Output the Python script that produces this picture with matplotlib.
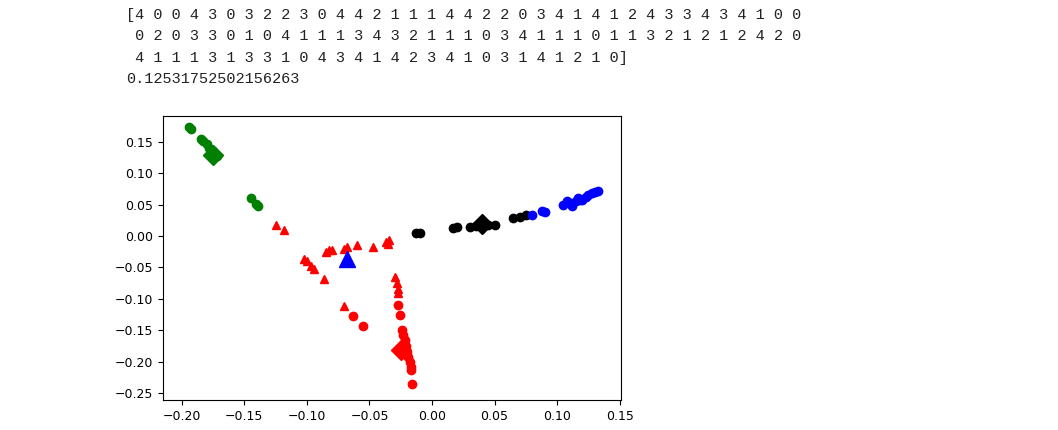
import matplotlib
matplotlib.use('Agg')
from matplotlib import pyplot as plt

LABEL_LINES = [
    "[4 0 0 4 3 0 3 2 2 3 0 4 4 2 1 1 1 4 4 2 2 0 3 4 1 4 1 2 4 3 3 4 3 4 1 0 0",
    " 0 2 0 3 3 0 1 0 4 1 1 1 3 4 3 2 1 1 1 0 3 4 1 1 1 0 1 1 3 2 1 2 1 2 4 2 0",
    " 4 1 1 1 3 1 3 3 1 0 4 3 4 1 4 2 3 4 1 0 3 1 4 1 2 1 0]",
    "0.12531752502156263",
]

green_x = [-0.194, -0.193, -0.185, -0.183, -0.180, -0.178, -0.175, -0.176, -0.172, -0.145, -0.141, -0.139]
green_y = [0.173, 0.170, 0.155, 0.152, 0.146, 0.140, 0.135, 0.130, 0.128, 0.061, 0.051, 0.047]

tri_x = [-0.125, -0.118, -0.102, -0.100, -0.097, -0.094, -0.086, -0.085, -0.082, -0.080, -0.070,
         -0.068, -0.060, -0.047, -0.037, -0.034, -0.035, -0.030, -0.028, -0.027, -0.027, -0.070]
tri_y = [0.017, 0.010, -0.037, -0.040, -0.047, -0.052, -0.069, -0.025, -0.023, -0.022, -0.020,
         -0.018, -0.014, -0.017, -0.010, -0.007, -0.012, -0.065, -0.075, -0.085, -0.090, -0.112]

red_x = [-0.063, -0.055, -0.027, -0.026, -0.024, -0.023, -0.022, -0.021, -0.020, -0.019, -0.018, -0.017, -0.017, -0.016]
red_y = [-0.128, -0.143, -0.110, -0.125, -0.150, -0.158, -0.165, -0.175, -0.185, -0.192, -0.200, -0.208, -0.213, -0.235]

black_x = [-0.013, -0.010, 0.017, 0.020, 0.030, 0.035, 0.045, 0.050, 0.065, 0.070, 0.075]
black_y = [0.004, 0.004, 0.012, 0.014, 0.015, 0.016, 0.018, 0.017, 0.028, 0.030, 0.033]

blue_x = [0.080, 0.088, 0.090, 0.105, 0.110, 0.112, 0.115, 0.118, 0.120, 0.123, 0.125, 0.128, 0.130, 0.133, 0.108, 0.117]
blue_y = [0.033, 0.040, 0.038, 0.050, 0.052, 0.048, 0.055, 0.057, 0.058, 0.062, 0.065, 0.068, 0.070, 0.072, 0.055, 0.060]

# cluster centres
green_c = (-0.175, 0.129)
red_c = (-0.025, -0.182)
black_c = (0.040, 0.019)
tri_c = (-0.068, -0.036)

fig = plt.figure(figsize=(10.58, 4.30), dpi=100)
for i, line in enumerate(LABEL_LINES):
    fig.text(126 / 1058, 1 - (15 + i * 21.3) / 430, line, family='Liberation Mono',
             fontsize=11, va='center', ha='left', color='#222222')

ax = fig.add_axes([163 / 1058, 30 / 430, 458 / 1058, 284 / 430])
ax.plot(green_x, green_y, 'go')
ax.plot(tri_x, tri_y, 'r^')
ax.plot(red_x, red_y, 'ro')
ax.plot(black_x, black_y, 'ko')
ax.plot(blue_x, blue_y, 'bo')
ax.plot(*green_c, 'gD', markersize=10)
ax.plot(*red_c, 'rD', markersize=10)
ax.plot(*black_c, 'kD', markersize=10)
ax.plot(*tri_c, 'b^', markersize=12)

ax.set_xlim(-0.215, 0.151)
ax.set_ylim(-0.261, 0.191)
ax.set_xticks([-0.20, -0.15, -0.10, -0.05, 0.00, 0.05, 0.10, 0.15])
ax.set_yticks([-0.25, -0.20, -0.15, -0.10, -0.05, 0.00, 0.05, 0.10, 0.15])
ax.tick_params(labelsize=9)

plt.savefig('out.png')
